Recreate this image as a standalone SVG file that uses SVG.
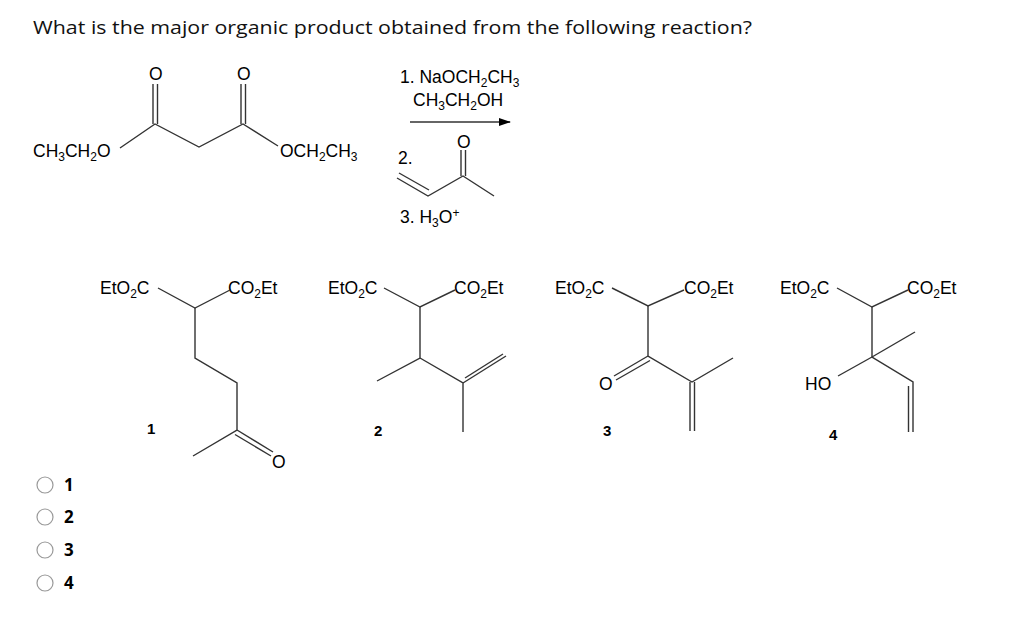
<svg xmlns="http://www.w3.org/2000/svg" width="1024" height="623" viewBox="0 0 1024 623">
<style>
text{font-family:"Liberation Sans",Arial,sans-serif;font-size:17.5px;fill:#000}
.t{font-family:"Open Sans","DejaVu Sans",sans-serif;font-size:18px;fill:#111}
.s{font-size:12px}
.b{font-weight:bold;font-size:15px}
.o{font-family:"Open Sans","DejaVu Sans",sans-serif;font-weight:bold;font-size:17px}
line,polyline{stroke:#333;stroke-width:1.4;fill:none}
circle{fill:#fff;stroke:#999;stroke-width:1.2}
</style>
<defs><marker id="ah" markerWidth="12" markerHeight="8" refX="11" refY="4" orient="auto" markerUnits="userSpaceOnUse"><path d="M0,0 L12,4 L0,8 z" fill="#000"/></marker></defs>
<text class="t" x="33" y="34" textLength="719" lengthAdjust="spacingAndGlyphs">What is the major organic product obtained from the following reaction?</text>
<g id="reactant">
<text x="33" y="157">CH<tspan class="s" dy="4">3</tspan><tspan dy="-4">CH</tspan><tspan class="s" dy="4">2</tspan><tspan dy="-4">O</tspan></text>
<polyline points="120,148 155,124 199,147 243,124 278,146"/>
<line x1="153" y1="124" x2="153" y2="84"/><line x1="157.5" y1="124" x2="157.5" y2="84"/>
<line x1="241" y1="124" x2="241" y2="84"/><line x1="245.5" y1="124" x2="245.5" y2="84"/>
<text x="149" y="80">O</text><text x="237" y="80">O</text>
<text x="280" y="157">OCH<tspan class="s" dy="4">2</tspan><tspan dy="-4">CH</tspan><tspan class="s" dy="4">3</tspan></text>
</g>
<g id="reagents">
<text x="400" y="83">1. NaOCH<tspan class="s" dy="4">2</tspan><tspan dy="-4">CH</tspan><tspan class="s" dy="4">3</tspan></text>
<text x="413" y="106">CH<tspan class="s" dy="4">3</tspan><tspan dy="-4">CH</tspan><tspan class="s" dy="4">2</tspan><tspan dy="-4">OH</tspan></text>
<text x="398" y="164">2.</text>
<polyline points="397,178 428,196 463,176 494,196"/>
<line x1="399" y1="173" x2="429" y2="190"/>
<line x1="461" y1="176" x2="461" y2="150"/><line x1="465.5" y1="176" x2="465.5" y2="150"/>
<text x="457" y="148">O</text>
<text x="400" y="223">3. H<tspan class="s" dy="4">3</tspan><tspan dy="-4">O</tspan><tspan class="s" dy="-6">+</tspan></text>
</g>
<g id="connectors"><line x1="410" y1="122" x2="510" y2="122" stroke="#000" marker-end="url(#ah)"/></g>
<g id="p1">
<text x="100" y="294">EtO<tspan class="s" dy="4">2</tspan><tspan dy="-4">C</tspan></text>
<text x="228" y="294">CO<tspan class="s" dy="4">2</tspan><tspan dy="-4">Et</tspan></text>
<polyline points="158,288 195,308 230,290"/>
<polyline points="195,308 195,358 237,383 237,430 193,456"/>
<line x1="237" y1="430" x2="273" y2="452"/><line x1="235" y1="434.5" x2="271" y2="456"/>
<text x="272" y="468">O</text>
<text class="b" x="147" y="434">1</text>
</g>
<g id="p2">
<text x="328" y="294">EtO<tspan class="s" dy="4">2</tspan><tspan dy="-4">C</tspan></text>
<text x="454" y="294">CO<tspan class="s" dy="4">2</tspan><tspan dy="-4">Et</tspan></text>
<polyline points="384,288 420,307 455,290"/>
<polyline points="420,307 420,358 377,381"/>
<polyline points="420,358 463,383 463,432"/>
<line x1="463" y1="383" x2="506" y2="356"/><line x1="465" y1="378" x2="503" y2="354"/>
<text class="b" x="374" y="436">2</text>
</g>
<g id="p3">
<text x="555" y="294">EtO<tspan class="s" dy="4">2</tspan><tspan dy="-4">C</tspan></text>
<text x="684" y="294">CO<tspan class="s" dy="4">2</tspan><tspan dy="-4">Et</tspan></text>
<polyline points="612,288 648,306 684,290"/>
<polyline points="648,306 648,356 692,382 733,358"/>
<line x1="648" y1="356" x2="614" y2="376"/><line x1="650" y1="360.5" x2="616" y2="380"/>
<text x="599" y="390">O</text>
<line x1="690" y1="382" x2="690" y2="431"/><line x1="694.5" y1="382" x2="694.5" y2="431"/>
<text class="b" x="603" y="436">3</text>
</g>
<g id="p4">
<text x="780" y="294">EtO<tspan class="s" dy="4">2</tspan><tspan dy="-4">C</tspan></text>
<text x="907" y="294">CO<tspan class="s" dy="4">2</tspan><tspan dy="-4">Et</tspan></text>
<polyline points="837,288 872,307 908,290"/>
<polyline points="872,307 872,357 913,382 913,432"/>
<line x1="872" y1="357" x2="915" y2="332"/>
<line x1="872" y1="357" x2="838" y2="376"/>
<line x1="908.5" y1="386" x2="908.5" y2="432"/>
<text x="805" y="390">HO</text>
<text class="b" x="829" y="440">4</text>
</g>
<g id="options">
<circle cx="45" cy="485" r="8"/><text class="o" x="64" y="491">1</text>
<circle cx="45" cy="517" r="8"/><text class="o" x="64" y="523">2</text>
<circle cx="45" cy="550" r="8"/><text class="o" x="64" y="556">3</text>
<circle cx="45" cy="583" r="8"/><text class="o" x="64" y="589">4</text>
</g>
</svg>
